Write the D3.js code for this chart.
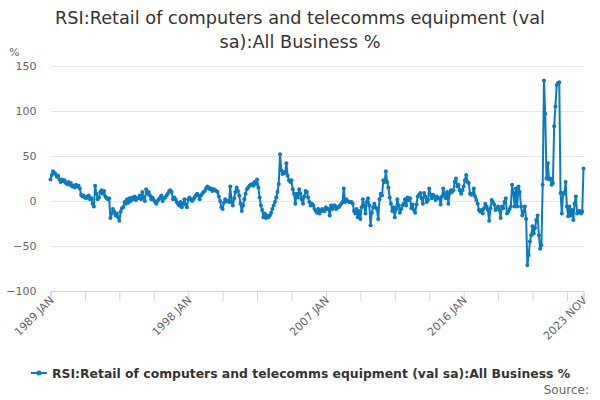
<!DOCTYPE html>
<html>
<head>
<meta charset="utf-8">
<script src="https://cdn.jsdelivr.net/npm/d3@7"></script>
<style>
  html, body { margin: 0; padding: 0; background: #fff; }
  svg { display: block; font-family: "DejaVu Sans", sans-serif; }
</style>
</head>
<body>
<svg id="chart" width="600" height="400"></svg>
<script>
// ---- Data (monthly, 1989 JAN .. 2023 NOV) ----
const startYear = 1989;
const monthNames = ["JAN","FEB","MAR","APR","MAY","JUN","JUL","AUG","SEP","OCT","NOV","DEC"];

const values1989to1997 = [
  24,29,33,31,30,27,28,24,21,24, 22,23,20,19,21,18,20,16,17,15,
  18,16,17,14,7,5,6,4,3,5, 6,2,3,-3,-6,17,8,2,4,10,
  12,8,11,5,3,2,3,-19,-14,-9, -12,-16,-14,-18,-22,-12,-8,-7,-1,-3,
  2,-2,3,0,4,2,5,1,3,3, 6,2,10,4,0,13,8,10,6,2,
  4,1,-1,-3,0,2,4,6,0,3, 4,6,8,11,12,10,2,4,2,-1,
  -3,-5,-1,-7,-3,2,-4,-7
];
const values1998to2006 = [
  2,
  4,2,0,2,4,6,8,6,2,6, 8,10,11,14,16,15,13,14,11,13,
  12,11,10,5,0,-7,-9,-2,2,0, 0,-1,16,-1,-5,3,10,15,11,6,
  -3,-11,-5,2,8,13,15,17,18,19, 17,21,19,24,15,4,-5,-10,-18,-14,
  -19,-16,-18,-16,-13,-9,-5,-1,4,10, 19,52,34,30,32,31,42,28,23,21,
  23,13,8,-3,8,4,13,8,2,-3, 5,11,10,4,-1,-5,-3,-5,-9,-11,
  -13,-9,-14,-11,-9,-11,-11
];
const values2007to2015 = [
  -7,-9,-9,-16,
  -5,-9,-5,-5,-9,-7,-7,-5,-3,-1, 14,-1,2,0,-1,-1,-1,-3,-11,-14,
  -9,-18,-11,-20,-7,2,-5,-14,-1,3, -5,-27,-13,-7,-3,-7,-9,-20,2,8,
  6,23,21,33,21,15,4,-3,-11,-7, -18,-9,2,-5,-13,-9,-5,-3,2,-5,
  4,1,3,-8,-4,-10,-13,-4,5,7, 9,3,-3,9,5,-1,1,14,7,3,
  7,5,1,5,3,3,-4,5,14,7, 3,10,-3,8,12,10,12,21,25,16,
  18,12,8,12
];
const values2016to2023 = [
  16,23,29,21,20,8,
  7,8,14,5,1,-3,-10,-12,-10,-14, -8,-3,-6,-10,-22,-8,1,-1,-4,-10,
  -8,-6,-10,-19,-6,-8,-1,3,-14,-12, -9,-6,18,9,-6,14,-6,16,10,-6,
  -16,-12,-6,-20,-71,-60,-45,-38,-28,-36, -30,-21,-16,-38,-53,-49,18,134,97,25,
  42,24,25,18,20,83,105,129,131,132, 9,-14,9,8,21,-6,-17,-6,-16,-10,
  -21,-3,5,-14,-12,-11,-14,-12,36
];
const seriesValues = values1989to1997.concat(values1998to2006, values2007to2015, values2016to2023);

// categories: one label per month
const categories = seriesValues.map((_, i) => (startYear + Math.floor(i / 12)) + " " + monthNames[i % 12]);

const xTickLabels = ["1989 JAN", "1998 JAN", "2007 JAN", "2016 JAN", "2023 NOV"];
const yTicks = [-100, -50, 0, 50, 100, 150];
const tickEvery = 27;

const titleLines = ["RSI:Retail of computers and telecomms equipment (val", "sa):All Business %"];
const seriesName = "RSI:Retail of computers and telecomms equipment (val sa):All Business %";
const color = "#0b7bbf";

// ---- Layout ----
const svg = d3.select("#chart");
const plotLeft = 50.5, plotRight = 583.5, plotTop = 66, plotBottom = 291;

const x = d3.scaleLinear().domain([0, categories.length - 1]).range([plotLeft, plotRight]);
const y = d3.scaleLinear().domain([-100, 150]).range([plotBottom, plotTop]);

// Title
svg.append("text").attr("x", 300).attr("y", 24).attr("text-anchor", "middle")
  .attr("font-size", 17.7).attr("fill", "#333").text(titleLines[0]);
svg.append("text").attr("x", 300).attr("y", 48).attr("text-anchor", "middle")
  .attr("font-size", 17.7).attr("fill", "#333").text(titleLines[1]);

// Y unit
svg.append("text").attr("x", 9).attr("y", 56).attr("font-size", 11).attr("fill", "#666").text("%");

// Gridlines + y labels
const yAxis = d3.axisLeft(y).tickValues(yTicks).tickSize(-(plotRight - plotLeft)).tickPadding(14);
const gy = svg.append("g").attr("transform", `translate(${plotLeft},0)`).call(yAxis);
gy.select(".domain").remove();
gy.selectAll(".tick line").attr("stroke", "#e6e6e6");
gy.selectAll(".tick text").attr("font-size", 11).attr("fill", "#666").attr("font-family", "DejaVu Sans, sans-serif");
gy.selectAll(".tick").filter(d => d === -100).select("line").remove();

// X axis
const tickIdx = d3.range(0, categories.length, tickEvery).concat([categories.length - 1]);
const xAxis = d3.axisBottom(x).tickValues(tickIdx).tickSize(10).tickFormat(() => "");
const gx = svg.append("g").attr("transform", `translate(0,${plotBottom})`).call(xAxis);
gx.select(".domain").attr("stroke", "#ccd6eb");
gx.selectAll(".tick line").attr("stroke", "#ccd6eb");

const labelIdx = xTickLabels.map(l => categories.indexOf(l));
svg.append("g").selectAll("text").data(labelIdx).join("text")
  .attr("transform", d => `translate(${x(d) + 4},${plotBottom + 10}) rotate(-45)`)
  .attr("text-anchor", "end").attr("font-size", 11).attr("fill", "#666")
  .text(d => categories[d]);

// Line
const line = d3.line().x((d, i) => x(i)).y(d => y(d));
svg.append("path").datum(seriesValues).attr("d", line)
  .attr("fill", "none").attr("stroke", color).attr("stroke-width", 2).attr("stroke-linejoin", "round");
svg.append("g").selectAll("circle").data(seriesValues).join("circle")
  .attr("cx", (d, i) => x(i)).attr("cy", d => y(d)).attr("r", 2).attr("fill", color);

// Legend
const lg = svg.append("g").attr("transform", "translate(0,373)");
lg.append("line").attr("x1", 31).attr("x2", 47).attr("y1", 0).attr("y2", 0).attr("stroke", color).attr("stroke-width", 2);
lg.append("circle").attr("cx", 39).attr("cy", 0).attr("r", 2.5).attr("fill", color);
lg.append("text").attr("x", 52).attr("y", 4.5).attr("font-size", 12.4).attr("font-weight", "bold").attr("fill", "#333").text(seriesName);

// Source
svg.append("text").attr("x", 589).attr("y", 394).attr("text-anchor", "end").attr("font-size", 12).attr("fill", "#666").text("Source:");
</script>
</body>
</html>
